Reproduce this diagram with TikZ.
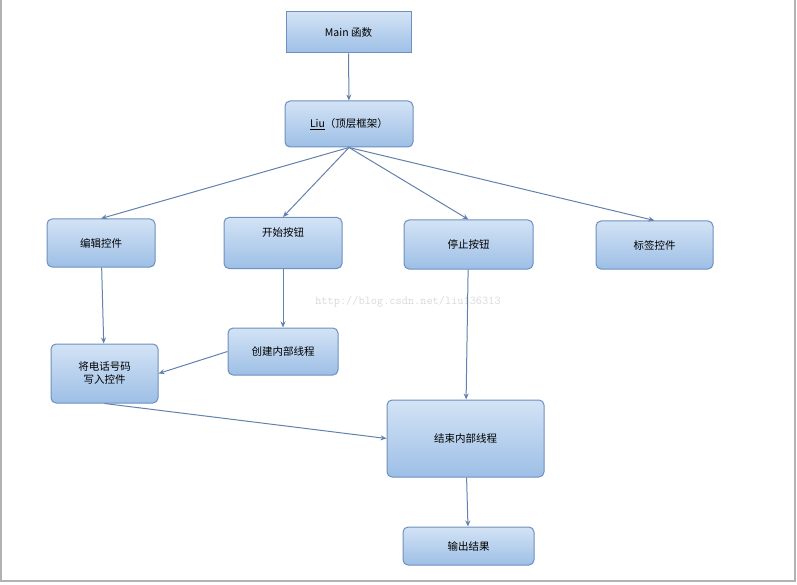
\documentclass[tikz,border=0pt]{standalone}
\usepackage{fontspec}
\newfontfamily\cjk{Noto Sans CJK SC}
\setmainfont{Liberation Serif}
\usetikzlibrary{arrows.meta}
\definecolor{bd}{HTML}{6E8FBF}
\definecolor{topc}{HTML}{D3E3F5}
\definecolor{botc}{HTML}{9DBFE6}
\tikzset{
  box/.style={draw=bd, line width=1pt, top color=topc, bottom color=botc, rounded corners=5pt, font=\cjk\fontsize{10.5}{13}\selectfont, align=center, inner sep=0pt},
  conn/.style={draw=bd!90!black, line width=1pt, -{Stealth[length=6pt,width=5pt]}}
}
\begin{document}
\begin{tikzpicture}[x=1pt,y=-1pt]
\useasboundingbox (0,0) rectangle (797,585);
\draw[gray!60, line width=1.5pt] (1,-2) -- (1,581) -- (795,581) -- (795,-2);
\node[gray!30, font=\ttfamily\fontsize{12}{14}\selectfont] (wm) at (408,302) {http://blog.csdn.net/liu136313};
\node[box, rounded corners=0pt, minimum width=125pt, minimum height=41pt] (main) at (348.5,32.5) {Main {\cjk 函数}};
\node[box, minimum width=128pt, minimum height=46pt] (liu) at (349,124) {\underline{Liu}{\cjk （顶层框架）}};
\node[box, minimum width=108pt, minimum height=48pt] (bj) at (101,243) {编辑控件};
\node[box, minimum width=118pt, minimum height=51pt, anchor=north] (ks) at (283,217) {\raisebox{18pt}{}开始按钮\\[18pt]};
\node[box, minimum width=129pt, minimum height=49pt] (tz) at (468.5,244.5) {停止按钮};
\node[box, minimum width=117pt, minimum height=48pt] (bq) at (654.5,245) {标签控件};
\node[box, minimum width=107pt, minimum height=59pt] (xr) at (104.5,373.5) {将电话号码\\写入控件};
\node[box, minimum width=110pt, minimum height=47pt] (cj) at (283,351.5) {创建内部线程};
\node[box, minimum width=157pt, minimum height=77pt] (js) at (465.5,438.5) {结束内部线程};
\node[box, minimum width=131pt, minimum height=38pt] (sc) at (468.5,546) {输出结果};
\draw[conn] (main) -- (liu);
\draw[conn] (liu.south) -- (bj.north);
\draw[conn] (liu.south) -- (ks.north);
\draw[conn] (liu.south) -- (tz.north);
\draw[conn] (liu.south) -- (bq.north);
\draw[conn] (bj) -- (xr);
\draw[conn] (ks) -- (cj);
\draw[conn] (cj.west) -- (xr.east);
\draw[conn] (xr.south) -- (js.west);
\draw[conn] (tz) -- (js);
\draw[conn] (js) -- (sc);
\end{tikzpicture}
\end{document}
